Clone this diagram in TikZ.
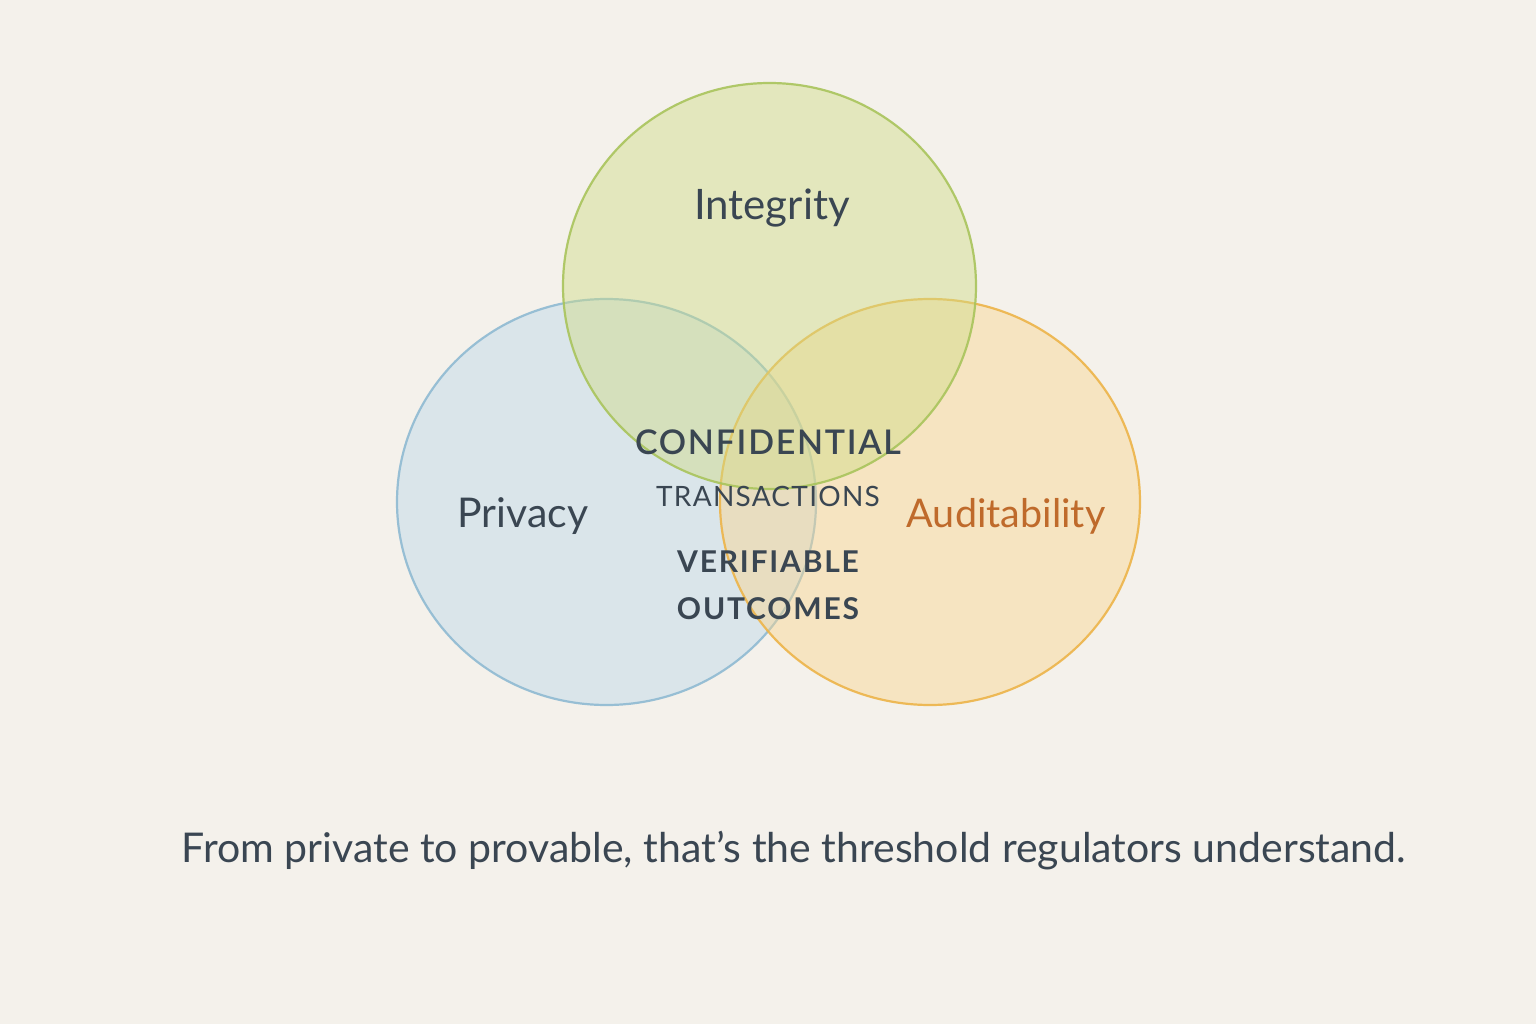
\documentclass[tikz,border=0pt]{standalone}
\usepackage{fontspec}
\usetikzlibrary{shapes.geometric}
\setmainfont{Lato}
\newfontfamily\latosemi{Lato Semibold}
\definecolor{bg}{HTML}{F4F1EB}
\definecolor{txt}{HTML}{3A4652}
\definecolor{gfill}{HTML}{CFDC86}
\definecolor{gline}{HTML}{A9C45C}
\definecolor{bfill}{HTML}{BCD8EA}
\definecolor{bline}{HTML}{8FBAD2}
\definecolor{ofill}{HTML}{FAD58E}
\definecolor{oline}{HTML}{EDB449}
\definecolor{otxt}{HTML}{BF6A2B}
\begin{document}
\begin{tikzpicture}[x=1pt,y=-1pt,
  venn/.style={ellipse,inner sep=0pt,line width=2.2pt,fill opacity=0.45},
  lbl/.style={text=txt,inner sep=0pt,anchor=base},
  ]
\fill[bg] (0,0) rectangle (1536,1024);
\useasboundingbox (0,0) rectangle (1536,1024);
\node[venn,minimum width=419pt,minimum height=406pt,fill=bfill,draw=bline,draw opacity=0.9] (priv) at (606.5,502) {};
\node[venn,minimum width=420pt,minimum height=406pt,fill=ofill,draw=oline,draw opacity=0.9] (aud) at (930,502) {};
\node[venn,minimum width=413pt,minimum height=406pt,fill=gfill,draw=gline,draw opacity=0.9] (integ) at (769.5,286) {};
\node[lbl,font=\fontsize{42}{48}\selectfont] (tI) at (772,220) {Integrity};
\node[lbl,font=\fontsize{41}{48}\selectfont] (tP) at (523,527) {Privacy};
\node[lbl,font=\fontsize{39.5}{46}\selectfont,text=otxt] (tA) at (1006,527) {Auditability};
\node[lbl,font=\latosemi\fontsize{34}{40}\selectfont\addfontfeatures{LetterSpace=5}] (tC) at (768,454) {CONFIDENTIAL};
\node[lbl,font=\fontsize{28}{32}\selectfont\addfontfeatures{LetterSpace=4.5}] (tT) at (768,506) {TRANSACTIONS};
\node[lbl,font=\fontsize{30}{34}\bfseries\selectfont\addfontfeatures{LetterSpace=6}] (tV) at (768,572) {VERIFIABLE};
\node[lbl,font=\fontsize{30}{34}\bfseries\selectfont\addfontfeatures{LetterSpace=6}] (tO) at (768,619) {OUTCOMES};
\node[lbl,font=\fontsize{41}{48}\selectfont] (cap) at (794,862) {From private to provable, that’s the threshold regulators understand.};
\end{tikzpicture}
\end{document}
